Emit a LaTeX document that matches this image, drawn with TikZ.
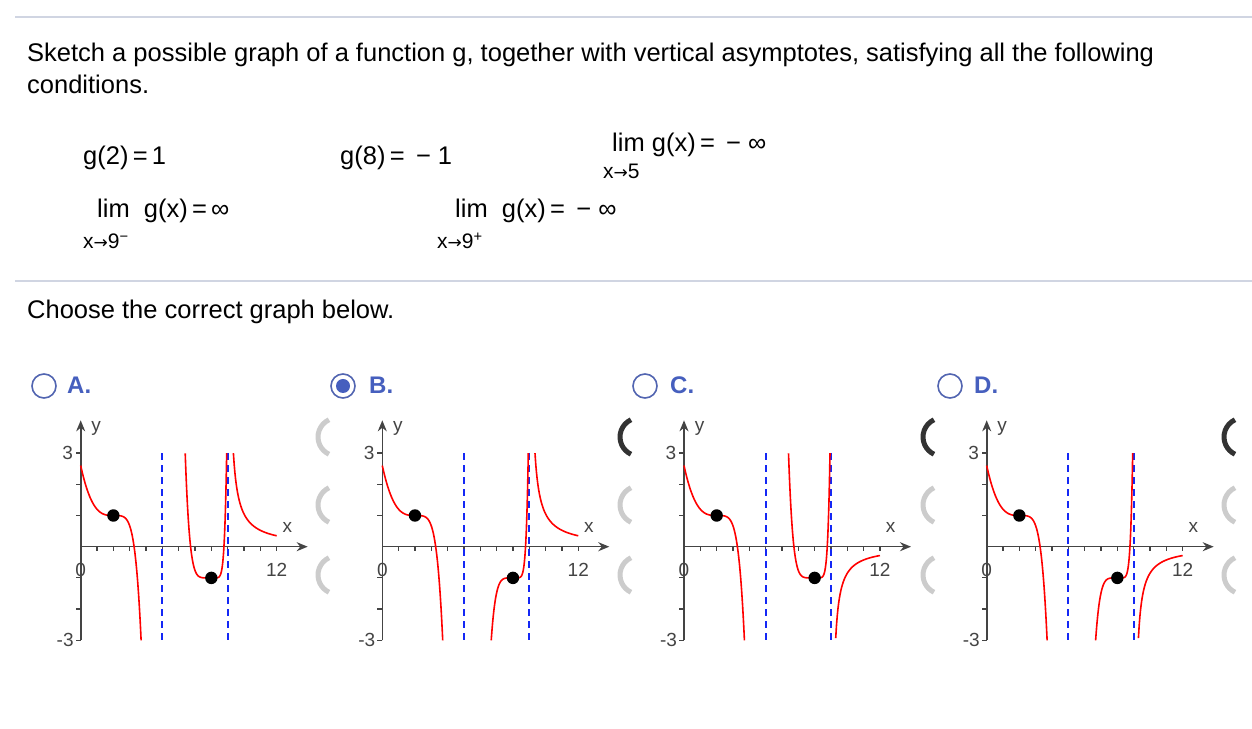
\documentclass[tikz,border=0pt]{standalone}
\usepackage{fontspec}
\setmainfont{Liberation Sans}
\newfontfamily\arrowfont{DejaVu Sans}
\usetikzlibrary{arrows.meta}
\definecolor{rule}{RGB}{208,213,226}
\definecolor{axisc}{RGB}{68,68,68}
\definecolor{radio}{RGB}{70,95,190}
\definecolor{asym}{RGB}{20,40,245}
\newcommand\arr{{\arrowfont\fontsize{17}{18}\selectfont →}}
\tikzset{
  txt/.style={anchor=base west,inner sep=0pt,font=\fontsize{25.5}{30}\selectfont},
  small/.style={anchor=base west,inner sep=0pt,font=\fontsize{21}{24}\selectfont},
  axlab/.style={inner sep=0pt,text=axisc,font=\fontsize{19}{22}\selectfont},
  curve/.style={red,line width=1.6pt},
  asy/.style={asym,line width=1.8pt,dash pattern=on 7pt off 5pt},
  axis/.style={axisc,line width=1.6pt},
  radiob/.style={radio!80!gray,line width=1.6pt,fill=white},
  opt/.style={anchor=base west,inner sep=0pt,text=radio,font=\fontsize{24}{28}\selectfont\bfseries},
  knob/.style={gray!40,line width=5pt}
}
\newcommand\axesframe[1]{%
 \begin{scope}[shift={(#1,181.3)},xscale=16.33,yscale=31.2]
  \coordinate (o) at (0,0);
  \foreach \i in {1,...,12} \draw[axis,line width=1.2pt] (\i,0) -- (\i,-0.14);
  \foreach \j in {-3,-2,-1,1,2,3} \draw[axis,line width=1.2pt] (0,\j) -- (-0.3,\j);
  \draw[axis,-{Stealth[length=11pt,width=9pt]}] (0,0) -- (13.9,0);
  \draw[axis,-{Stealth[length=11pt,width=9pt]}] (0,-3) -- (0,4.05);
  \node[axlab] at (-0.8,3) {3};
  \node[axlab] at (-0.95,-3) {-3};
  \node[axlab] at (0,-0.75) {0};
  \node[axlab] at (12,-0.75) {12};
  \node[axlab] at (12.65,0.62) {x};
  \node[axlab] at (0.95,3.8) {y};
  \draw[asy] (5,3) -- (5,-3);
  \draw[asy] (9,3) -- (9,-3);
  \draw[curve] plot[domain=-2:0,samples=40] ({2+\x},{1-0.2*\x*\x*\x});
  \draw[curve] plot[domain=0:1.7,samples=60] ({2+\x},{1-0.078*\x*\x*\x-0.255*pow(\x,5)});
  \draw[curve] plot[domain=0:0.94,samples=60] ({8+\x},{-1+4*pow(\x/0.94,7)});
 \end{scope}}
\newcommand\midup[1]{%
 \begin{scope}[shift={(#1,181.3)},xscale=16.33,yscale=31.2]
  \draw[curve] plot[domain=-1.6:0,samples=60] ({8+\x},{-1+0.238*pow(abs(\x),6)});
 \end{scope}}
\newcommand\middown[1]{%
 \begin{scope}[shift={(#1,181.3)},xscale=16.33,yscale=31.2]
  \draw[curve] plot[domain=-1.33:0,samples=60] ({8+\x},{-1-2*pow(abs(\x)/1.33,5)});
 \end{scope}}
\newcommand\rightup[1]{%
 \begin{scope}[shift={(#1,181.3)},xscale=16.33,yscale=31.2]
  \draw[curve] plot[domain=9.35:12,samples=60] (\x,{1.05/(\x-9)});
 \end{scope}}
\newcommand\rightdown[1]{%
 \begin{scope}[shift={(#1,181.3)},xscale=16.33,yscale=31.2]
  \draw[curve] plot[domain=9.29:12,samples=60] (\x,{-0.85/(\x-9)});
 \end{scope}}
\newcommand\pointpair[1]{%
 \begin{scope}[shift={(#1,181.3)},xscale=16.33,yscale=31.2]
  \fill (2,1) circle[x radius=0.38,y radius=0.2];
  \fill (8,-1) circle[x radius=0.38,y radius=0.2];
 \end{scope}}
\newcommand\knobs[2]{%
  \draw[knob,#2] (#1,291) ++(115:19) arc (115:245:19);
  \draw[knob] (#1,223) ++(115:19) arc (115:245:19);
  \draw[knob] (#1,153) ++(115:19) arc (115:245:19);}
\begin{document}
\begin{tikzpicture}[x=1pt,y=1pt]
\useasboundingbox (0,0) rectangle (1252,728);
\fill[white] (0,0) rectangle (1252,728);
\draw[rule,line width=1.2pt] (15,711) -- (1252,711);
\draw[rule,line width=1.2pt] (15,447) -- (1252,447);
\node[txt] (t1) at (27,666) {Sketch a possible graph of a function g, together with vertical asymptotes, satisfying all the following};
\node[txt] (t2) at (27,634) {conditions.};
\node[txt] (c1) at (83,563) {g(2)\,=\,1};
\node[txt] (c2) at (340,563) {g(8)\,=\, − 1};
\node[txt] (c3) at (612,576) {lim g(x)\,=\, − ∞};
\node[small] (c3s) at (603,549) {x\arr5};
\node[txt] (c4) at (97,510) {lim\ \ g(x)\,=\,∞};
\node[small] (c4s) at (83,479) {x\arr9\textsuperscript{−}};
\node[txt] (c5) at (455,510) {lim\ \ g(x)\,=\, − ∞};
\node[small] (c5s) at (437,479) {x\arr9\textsuperscript{+}};
\node[txt] (t3) at (27,409) {Choose the correct graph below.};
\draw[radiob] (44,342) circle (12);
\node[opt] (la) at (67,334) {A.};
\draw[radiob] (343,342) circle (12);
\fill[radio] (343,342) circle (7);
\node[opt] (lb) at (369,334) {B.};
\draw[radiob] (645,342) circle (12);
\node[opt] (lc) at (670,334) {C.};
\draw[radiob] (950,342) circle (12);
\node[opt] (ld) at (974,334) {D.};
\axesframe{80.7}\midup{80.7}\rightup{80.7}\pointpair{80.7}
\axesframe{382.3}\middown{382.3}\rightup{382.3}\pointpair{382.3}
\axesframe{684}\midup{684}\rightdown{684}\pointpair{684}
\axesframe{986.7}\middown{986.7}\rightdown{986.7}\pointpair{986.7}
\knobs{337}{}
\knobs{639}{black!80}
\knobs{942}{black!80}
\knobs{1243}{black!80}
\end{tikzpicture}
\end{document}
